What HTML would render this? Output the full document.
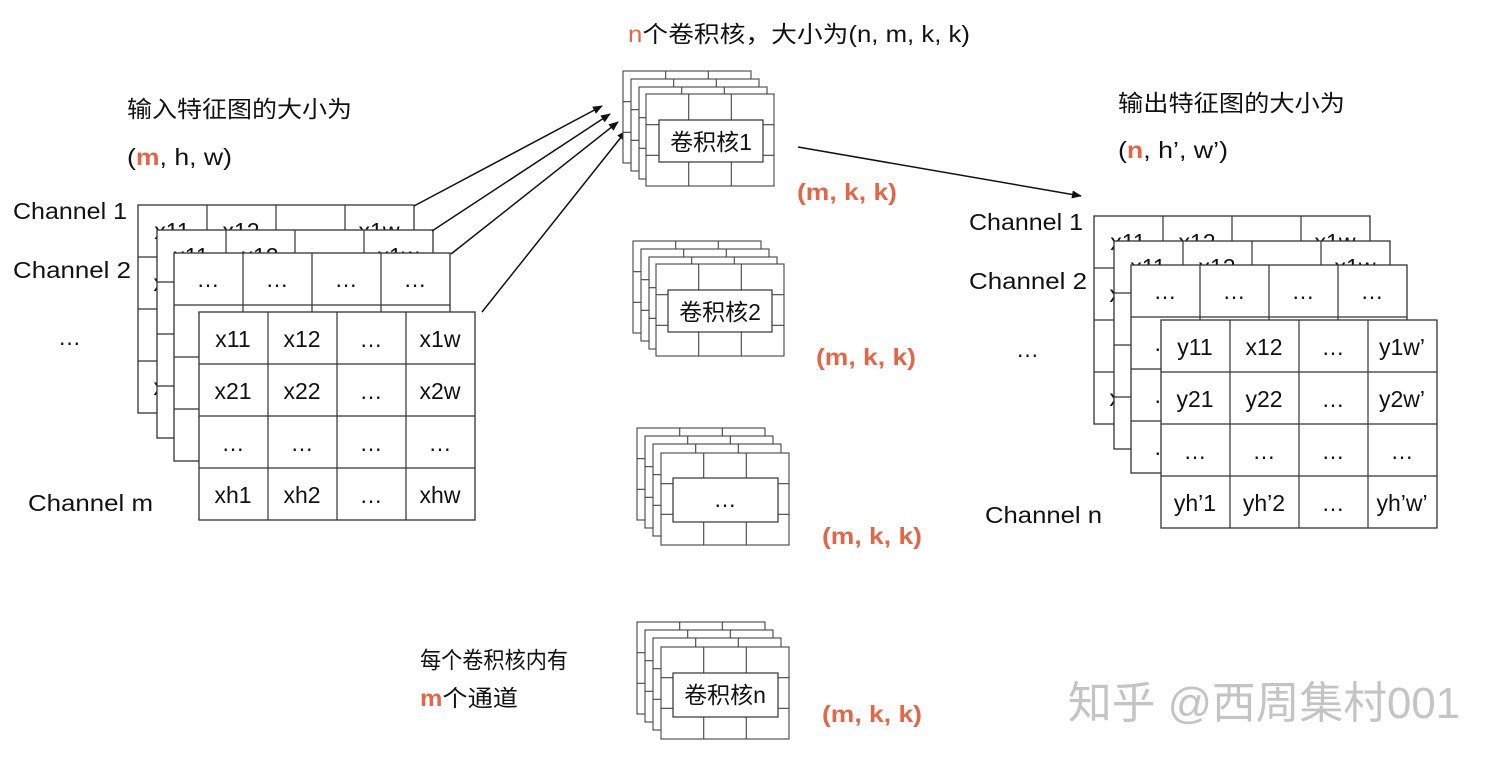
<!DOCTYPE html>
<html><head><meta charset="utf-8"><style>
html,body{margin:0;padding:0;background:#fff;}
svg{display:block;}
text{font-family:"Liberation Sans","Noto Sans CJK SC",sans-serif;fill:#111;}
.o{fill:#e0674a;}
</style></head><body>
<svg width="1499" height="762" viewBox="0 0 1499 762" xmlns="http://www.w3.org/2000/svg">
<defs>
<g id="G">
<rect x="0" y="0" width="276" height="208" fill="#fff" stroke="#333" stroke-width="1.3"/>
<path d="M69 0V208M138 0V208M207 0V208M0 52H276M0 104H276M0 156H276" stroke="#333" stroke-width="1.2" fill="none"/>
</g>
<g id="K">
<rect x="0" y="0" width="128" height="92" fill="#fff" stroke="#444" stroke-width="1.1"/>
<path d="M42.7 0V92M85.3 0V92M0 30.7H128M0 61.3H128" stroke="#444" stroke-width="1.1" fill="none"/>
</g>
<marker id="ar" markerWidth="10" markerHeight="8" refX="9" refY="4" orient="auto" markerUnits="userSpaceOnUse">
<path d="M0 0L10 4L0 8z" fill="#111"/>
</marker>
</defs>

<!-- top texts -->
<text x="628" y="42" font-size="23" textLength="342" lengthAdjust="spacingAndGlyphs"><tspan class="o">n</tspan>个卷积核，大小为(n, m, k, k)</text>
<text x="127" y="117" font-size="23" textLength="225" lengthAdjust="spacingAndGlyphs">输入特征图的大小为</text>
<text x="127" y="165" font-size="23" textLength="105" lengthAdjust="spacingAndGlyphs">(<tspan class="o" font-weight="bold">m</tspan>, h, w)</text>
<text x="1118" y="111" font-size="23" textLength="227" lengthAdjust="spacingAndGlyphs">输出特征图的大小为</text>
<text x="1118" y="158" font-size="23" textLength="110" lengthAdjust="spacingAndGlyphs">(<tspan class="o" font-weight="bold">n</tspan>, h’, w’)</text>

<!-- left labels -->
<text x="13" y="219" font-size="23" textLength="114" lengthAdjust="spacingAndGlyphs">Channel 1</text>
<text x="13" y="278" font-size="23" textLength="118" lengthAdjust="spacingAndGlyphs">Channel 2</text>
<text x="58" y="345" font-size="23">…</text>
<text x="28" y="511" font-size="23" textLength="125" lengthAdjust="spacingAndGlyphs">Channel m</text>

<!-- left stack -->
<g font-size="23" text-anchor="middle">
<use href="#G" x="138" y="205"/>
<text x="172" y="239">x11</text><text x="241" y="239">x12</text><text x="379" y="239">x1w</text>
<text x="172" y="291">x21</text><text x="172" y="395">xh1</text>
<use href="#G" x="157" y="230"/>
<text x="191" y="264">x11</text><text x="260" y="264">x12</text><text x="398" y="264">x1w</text>
<use href="#G" x="174" y="253"/>
<text x="208" y="287">…</text><text x="277" y="287">…</text><text x="346" y="287">…</text><text x="415" y="287">…</text>
<use href="#G" x="199" y="312"/>
<text x="233" y="347">x11</text><text x="302" y="347">x12</text><text x="371" y="347">…</text><text x="440" y="347">x1w</text>
<text x="233" y="399">x21</text><text x="302" y="399">x22</text><text x="371" y="399">…</text><text x="440" y="399">x2w</text>
<text x="233" y="451">…</text><text x="302" y="451">…</text><text x="371" y="451">…</text><text x="440" y="451">…</text>
<text x="233" y="503">xh1</text><text x="302" y="503">xh2</text><text x="371" y="503">…</text><text x="440" y="503">xhw</text>
</g>

<!-- arrows -->
<g stroke="#111" stroke-width="1.5" fill="none">
<line x1="414" y1="206" x2="602" y2="106" marker-end="url(#ar)"/>
<line x1="432" y1="231" x2="610" y2="114" marker-end="url(#ar)"/>
<line x1="451" y1="254" x2="618" y2="122" marker-end="url(#ar)"/>
<line x1="482" y1="312" x2="626" y2="131" marker-end="url(#ar)"/>
<line x1="798" y1="147" x2="1081" y2="196" marker-end="url(#ar)"/>
</g>

<!-- kernel 1 -->
<use href="#K" x="623" y="71"/><use href="#K" x="631" y="79"/><use href="#K" x="639" y="87"/><use href="#K" x="646" y="94"/>
<rect x="659" y="120" width="104" height="42" fill="#fff" stroke="#333" stroke-width="1.2"/>
<text x="711" y="150" font-size="23" text-anchor="middle">卷积核1</text>
<!-- kernel 2 -->
<use href="#K" x="633" y="241"/><use href="#K" x="641" y="249"/><use href="#K" x="649" y="257"/><use href="#K" x="656" y="264"/>
<rect x="668" y="290" width="104" height="42" fill="#fff" stroke="#333" stroke-width="1.2"/>
<text x="720" y="320" font-size="23" text-anchor="middle">卷积核2</text>
<!-- kernel 3 -->
<use href="#K" x="637" y="428"/><use href="#K" x="645" y="436"/><use href="#K" x="653" y="444"/><use href="#K" x="661" y="453"/>
<rect x="673" y="478" width="105" height="44" fill="#fff" stroke="#333" stroke-width="1.2"/>
<text x="725" y="507" font-size="23" text-anchor="middle">…</text>
<!-- kernel n -->
<use href="#K" x="637" y="622"/><use href="#K" x="645" y="630"/><use href="#K" x="653" y="638"/><use href="#K" x="661" y="647"/>
<rect x="673" y="673" width="105" height="44" fill="#fff" stroke="#333" stroke-width="1.2"/>
<text x="725" y="703" font-size="23" text-anchor="middle">卷积核n</text>

<!-- (m,k,k) -->
<g font-size="23" font-weight="bold">
<text class="o" x="797" y="200" textLength="100" lengthAdjust="spacingAndGlyphs">(m, k, k)</text>
<text class="o" x="816" y="365" textLength="100" lengthAdjust="spacingAndGlyphs">(m, k, k)</text>
<text class="o" x="822" y="544" textLength="100" lengthAdjust="spacingAndGlyphs">(m, k, k)</text>
<text class="o" x="822" y="722" textLength="100" lengthAdjust="spacingAndGlyphs">(m, k, k)</text>
</g>

<text x="420" y="668" font-size="23" textLength="148" lengthAdjust="spacingAndGlyphs">每个卷积核内有</text>
<text x="420" y="706" font-size="23" textLength="98" lengthAdjust="spacingAndGlyphs"><tspan class="o" font-weight="bold">m</tspan>个通道</text>

<!-- right labels -->
<text x="969" y="230" font-size="23" textLength="114" lengthAdjust="spacingAndGlyphs">Channel 1</text>
<text x="969" y="289" font-size="23" textLength="118" lengthAdjust="spacingAndGlyphs">Channel 2</text>
<text x="1016" y="357" font-size="23">…</text>
<text x="985" y="523" font-size="23" textLength="117" lengthAdjust="spacingAndGlyphs">Channel n</text>

<!-- right stack -->
<g font-size="23" text-anchor="middle">
<use href="#G" x="1094" y="216"/>
<text x="1128" y="250">x11</text><text x="1197" y="250">x12</text><text x="1335" y="250">x1w</text>
<text x="1128" y="302">x21</text><text x="1128" y="406">xh1</text>
<use href="#G" x="1114" y="241"/>
<text x="1148" y="275">x11</text><text x="1217" y="275">x12</text><text x="1355" y="275">x1w</text>
<use href="#G" x="1131" y="265"/>
<text x="1165" y="299">…</text><text x="1234" y="299">…</text><text x="1303" y="299">…</text><text x="1372" y="299">…</text>
<text x="1165" y="351">…</text><text x="1165" y="403">…</text><text x="1165" y="455">…</text>
<use href="#G" x="1161" y="320"/>
<text x="1195" y="355">y11</text><text x="1264" y="355">x12</text><text x="1333" y="355">…</text><text x="1402" y="355">y1w’</text>
<text x="1195" y="407">y21</text><text x="1264" y="407">y22</text><text x="1333" y="407">…</text><text x="1402" y="407">y2w’</text>
<text x="1195" y="459">…</text><text x="1264" y="459">…</text><text x="1333" y="459">…</text><text x="1402" y="459">…</text>
<text x="1195" y="511">yh’1</text><text x="1264" y="511">yh’2</text><text x="1333" y="511">…</text><text x="1402" y="511">yh’w’</text>
</g>

<!-- watermark -->
<text x="1068" y="718" font-size="44" textLength="392" lengthAdjust="spacingAndGlyphs" style="fill:#c4c4c4">知乎 @西周集村001</text>
</svg>
</body></html>
